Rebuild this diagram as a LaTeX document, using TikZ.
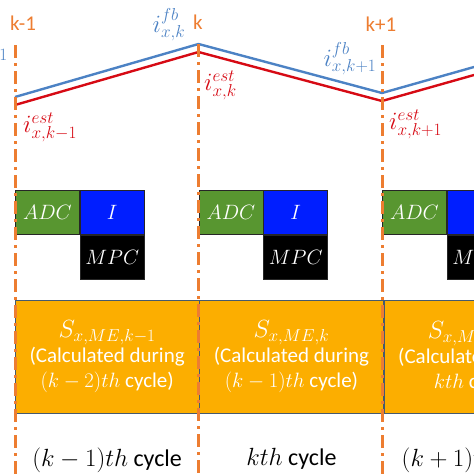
\documentclass[tikz,border=0pt]{standalone}
\usepackage{fontspec}
\setmainfont{Carlito}
\usetikzlibrary{positioning}

\definecolor{tickorange}{RGB}{237,125,49}
\definecolor{fbblue}{RGB}{76,130,196}
\definecolor{estred}{RGB}{214,10,20}
\definecolor{adcgreen}{RGB}{88,150,48}
\definecolor{intblue}{RGB}{0,30,255}
\definecolor{memorange}{RGB}{252,174,0}
\definecolor{memborder}{RGB}{70,90,110}

\newcommand{\bigmath}[1]{{\fontsize{25}{25}\selectfont$#1$}}

\begin{document}
\begin{tikzpicture}[
    x=1pt, y=-1pt,
    tick/.style={draw=tickorange, line width=3pt, dash pattern=on 13pt off 5pt on 3pt off 5pt},
    ticklabel/.style={text=tickorange, font=\fontsize{21}{24}\selectfont, inner sep=0pt},
    fbwave/.style={draw=fbblue, line width=2.4pt},
    estwave/.style={draw=estred, line width=2.4pt},
    fblabel/.style={text=fbblue, font=\fontsize{26}{28}\selectfont, inner sep=0pt},
    estlabel/.style={text=estred, font=\fontsize{26}{28}\selectfont, inner sep=0pt},
    block/.style={draw=black!85, line width=0.8pt, minimum width=64pt, minimum height=44pt, inner sep=0pt, text=white, font=\fontsize{21}{22}\selectfont},
    adc/.style={block, fill=adcgreen},
    integ/.style={block, fill=intblue},
    mpc/.style={block, fill=black},
    memory/.style={draw=memborder, line width=0.8pt, fill=memorange, text=white, align=center, minimum width=183.5pt, minimum height=113pt, inner sep=0pt, font=\fontsize{21}{25}\selectfont},
    cyclelabel/.style={font=\fontsize{24}{28}\selectfont, inner sep=0pt}
]
\useasboundingbox (0,0) rectangle (474,474);
\clip (0,0) rectangle (474,474);

% sampling instants
\coordinate (tkm1) at (15,45);
\coordinate (tk) at (198.5,44);
\coordinate (tkp1) at (382,45);
\coordinate (bkm1) at (15,474);
\coordinate (bk) at (198.5,474);
\coordinate (bkp1) at (382,474);

\node[ticklabel] (lblkm1) at (23,23) {k-1};
\node[ticklabel] (lblk) at (198,22) {k};
\node[ticklabel] (lblkp1) at (381,24) {k+1};

% current waveforms
\coordinate (fb0) at (15,97);
\coordinate (fb1) at (198.5,44);
\coordinate (fb2) at (382,93);
\coordinate (fb3) at (474,67);
\coordinate (est0) at (15,105);
\coordinate (est1) at (198.5,52);
\coordinate (est2) at (382,101);
\coordinate (est3) at (474,75);
\draw[fbwave] (fb0) -- (fb1) -- (fb2) -- (fb3);
\draw[estwave] (est0) -- (est1) -- (est2) -- (est3);

\node[fblabel, anchor=south east] (fbkm1) at (8,64) {$i^{fb}_{x,k-1}$};
\node[fblabel] (fbk) at (169,25) {$i^{fb}_{x,k}$};
\node[fblabel] (fbkp1) at (350,59) {$i^{fb}_{x,k+1}$};
\node[estlabel, anchor=west] (estkm1) at (23,127) {$i^{est}_{x,k-1}$};
\node[estlabel, anchor=west] (estk) at (204,85) {$i^{est}_{x,k}$};
\node[estlabel, anchor=west] (estkp1) at (389,124) {$i^{est}_{x,k+1}$};

% task blocks
\node[adc, anchor=north west] (adc1) at (15,190) {$ADC$};
\node[integ, right=0pt of adc1] (int1) {$I$};
\node[mpc, below=0pt of int1] (mpc1) {$MPC$};
\node[adc, anchor=north west] (adc2) at (198.5,190) {$ADC$};
\node[integ, right=0pt of adc2] (int2) {$I$};
\node[mpc, below=0pt of int2] (mpc2) {$MPC$};
\node[adc, anchor=north west] (adc3) at (382,190) {$ADC$};
\node[integ, right=0pt of adc3] (int3) {$I$};
\node[mpc, below=0pt of int3] (mpc3) {$MPC$};

% switching states
\node[memory, anchor=north west] (mem1) at (15,300) {\bigmath{S_{x,ME,k-1}}\\(Calculated during\\$(k-2)th$ cycle)};
\node[memory, right=0pt of mem1] (mem2) {\bigmath{S_{x,ME,k}}\\(Calculated during\\$(k-1)th$ cycle)};
\node[memory, right=0pt of mem2] (mem3) {\bigmath{S_{x,ME,k+1}}\\(Calculated during\\$kth$ cycle)};

\node[cyclelabel, below=34pt of mem1] (cyc1) {$(k-1)th$ cycle};
\node[cyclelabel, below=34pt of mem2] (cyc2) {$kth$ cycle};
\node[cyclelabel, below=34pt of mem3] (cyc3) {$(k+1)th$ cycle};

\draw[tick] (tkm1) -- (bkm1);
\draw[tick] (tk) -- (bk);
\draw[tick] (tkp1) -- (bkp1);
\end{tikzpicture}
\end{document}
